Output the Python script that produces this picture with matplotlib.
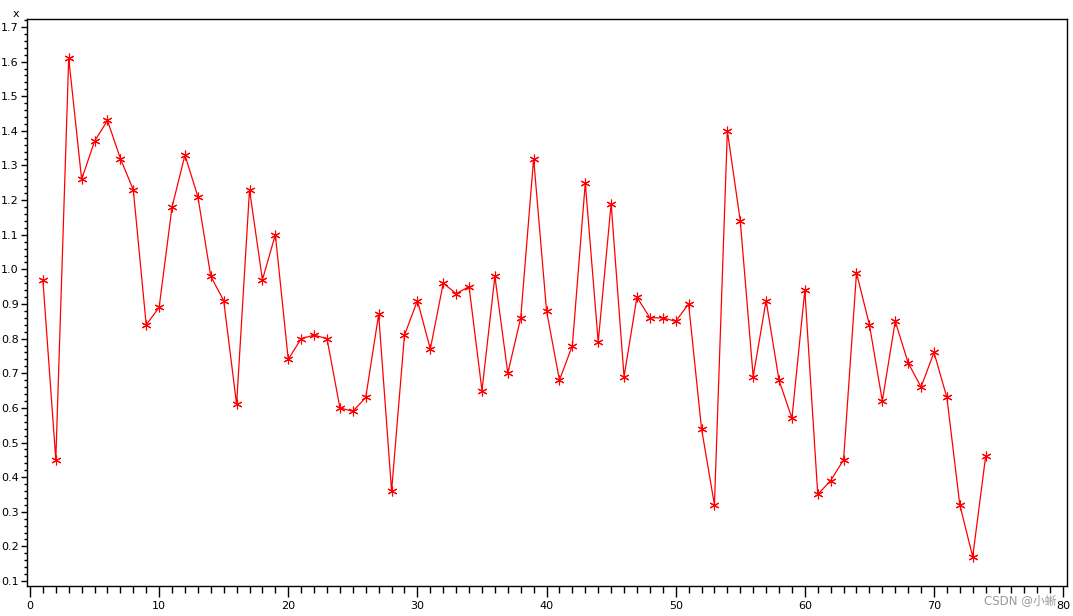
import matplotlib.pyplot as plt
import numpy as np
from matplotlib.ticker import MultipleLocator

# observation index and measured value
idx = np.arange(1, 75)
vals = [0.97, 0.45, 1.61, 1.26, 1.37, 1.43, 1.32, 1.23, 0.84, 0.89,
        1.18, 1.33, 1.21, 0.98, 0.91, 0.61, 1.23, 0.97, 1.10, 0.74,
        0.80, 0.81, 0.80, 0.60, 0.59, 0.63, 0.87, 0.36, 0.81, 0.91,
        0.77, 0.96, 0.93, 0.95, 0.65, 0.98, 0.70, 0.86, 1.32, 0.88,
        0.68, 0.78, 1.25, 0.79, 1.19, 0.69, 0.92, 0.86, 0.86, 0.85,
        0.90, 0.54, 0.32, 1.40, 1.14, 0.69, 0.91, 0.68, 0.57, 0.94,
        0.35, 0.39, 0.45, 0.99, 0.84, 0.62, 0.85, 0.73, 0.66, 0.76,
        0.63, 0.32, 0.17, 0.46]

plt.rcParams['font.family'] = ['DejaVu Sans', 'Noto Sans CJK SC']

fig = plt.figure(figsize=(10.73, 6.16), dpi=100)
ax = fig.add_axes([27/1073, 1-586/616, 1040/1073, 567/616])

ax.plot(idx, vals, '-', color='red', lw=0.9,
        marker=(6, 2, 0), markersize=7, markeredgewidth=0.8,
        markeredgecolor='red')

ax.set_xlim(-0.23, 80.3)
ax.set_ylim(0.0856, 1.723)

ax.xaxis.set_major_locator(MultipleLocator(10))
ax.xaxis.set_minor_locator(MultipleLocator(1))
ax.yaxis.set_major_locator(MultipleLocator(0.1))
ax.yaxis.set_minor_locator(MultipleLocator(0.02))
ax.yaxis.set_major_formatter(plt.FuncFormatter(lambda v, p: f'{v:.1f}'))

ax.tick_params(axis='x', which='major', length=8, width=1, labelsize=8, pad=3)
ax.tick_params(axis='x', which='minor', length=5, width=1)
ax.tick_params(axis='y', which='major', length=4, width=1, labelsize=8, pad=2)
ax.tick_params(axis='y', which='minor', length=2, width=1)
for s in ax.spines.values():
    s.set_linewidth(1)

fig.text(16/1073, 1-14/616, 'x', fontsize=8, ha='center', va='center')
fig.text(1057/1073, 1-601/616, 'CSDN @小蜥', fontsize=8.5, color='#999999',
         ha='right', va='center')

fig.savefig('out.png', dpi=100)
